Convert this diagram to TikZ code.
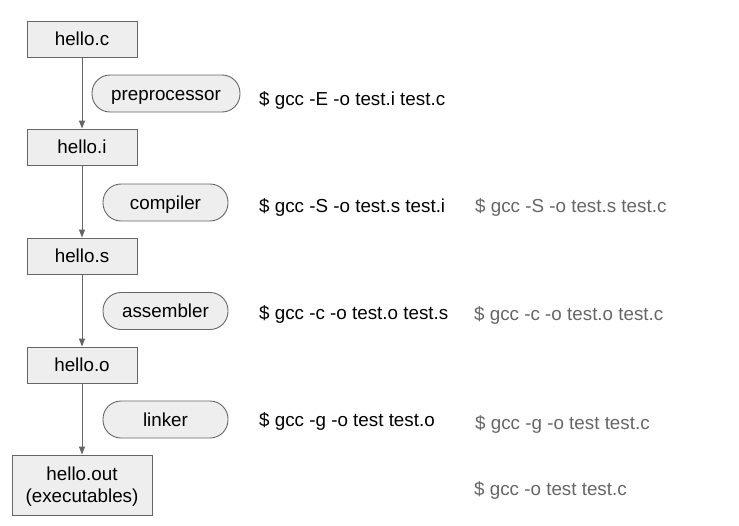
\documentclass[tikz,border=0pt]{standalone}
\usepackage{fontspec}
\setmainfont{Liberation Sans}
\usetikzlibrary{arrows.meta}
\definecolor{boxfill}{HTML}{EEEEEE}
\definecolor{edge}{HTML}{666666}
\definecolor{graytext}{HTML}{666666}
\begin{document}
\begin{tikzpicture}[x=1pt,y=-1pt,
  every node/.style={font=\fontsize{18.8}{22}\selectfont, inner sep=0pt},
  oneline/.style={text height=13.4pt, text depth=0pt},
  filebox/.style={draw=edge, fill=boxfill, line width=0.9pt, minimum width=110pt, minimum height=36pt, align=center},
  toolpill/.style={oneline, draw=edge, fill=boxfill, line width=0.9pt, minimum width=125pt, minimum height=37pt, rounded corners=18pt},
  cmd/.style={oneline, anchor=west},
  altcmd/.style={oneline, anchor=west, text=graytext},
  flow/.style={draw=edge, line width=0.9pt, -{Triangle[length=8pt,width=6pt]}}]
\useasboundingbox (0,0) rectangle (739,525);
\node[filebox, oneline] (c) at (82,39) {hello.c};
\node[filebox, oneline] (i) at (82,147) {hello.i};
\node[filebox, oneline] (s) at (82,256) {hello.s};
\node[filebox, oneline] (o) at (82,365) {hello.o};
\node[filebox, minimum width=140pt, minimum height=60pt] (out) at (82,485) {\rule{0pt}{16pt}hello.out\\(executables)};
\draw[flow] (c) -- (i);
\draw[flow] (i) -- (s);
\draw[flow] (s) -- (o);
\draw[flow] (o) -- (out);
\node[toolpill, minimum width=148pt] (pre) at (166,93.5) {preprocessor};
\node[toolpill] (comp) at (165.5,202.5) {compiler};
\node[toolpill] (asm) at (165.5,311) {assembler};
\node[toolpill] (link) at (165.5,419.5) {linker};
\node[cmd] (c1) at (259,99) {\$ gcc -E -o test.i test.c};
\node[cmd] (c2) at (259,206) {\$ gcc -S -o test.s test.i};
\node[cmd] (c3) at (259,313) {\$ gcc -c -o test.o test.s};
\node[cmd] (c4) at (259,420) {\$ gcc -g -o test test.o};
\node[altcmd] (a2) at (475,206) {\$ gcc -S -o test.s test.c};
\node[altcmd] (a3) at (474,314) {\$ gcc -c -o test.o test.c};
\node[altcmd] (a4) at (475,423) {\$ gcc -g -o test test.c};
\node[altcmd] (a5) at (474,489) {\$ gcc -o test test.c};
\end{tikzpicture}
\end{document}
